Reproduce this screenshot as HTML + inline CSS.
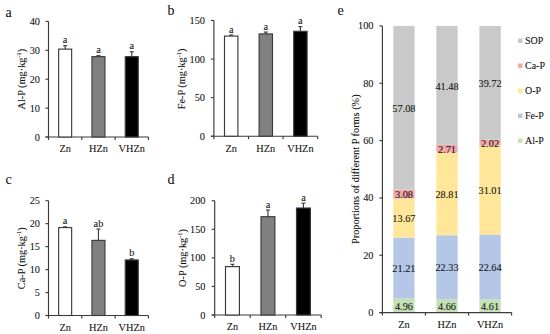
<!DOCTYPE html>
<html><head><meta charset="utf-8"><style>
html,body{margin:0;padding:0;background:#fff;width:550px;height:334px;overflow:hidden}
svg{display:block}
text{font-family:"Liberation Serif", serif;fill:#111;stroke:#111;stroke-width:0.08px}
</style></head><body>
<svg width="550" height="334" viewBox="0 0 550 334">
<line x1="48.5" y1="21.4" x2="48.5" y2="140" stroke="#3a3a3a" stroke-width="1.15"/>
<line x1="45.5" y1="137" x2="148.39999999999998" y2="137" stroke="#3a3a3a" stroke-width="1.15"/>
<line x1="45.5" y1="137.0" x2="48.5" y2="137.0" stroke="#3a3a3a" stroke-width="1.15"/>
<text x="40" y="140.5" font-size="10.3" text-anchor="end" >0</text>
<line x1="45.5" y1="108.1" x2="48.5" y2="108.1" stroke="#3a3a3a" stroke-width="1.15"/>
<text x="40" y="111.6" font-size="10.3" text-anchor="end" >10</text>
<line x1="45.5" y1="79.2" x2="48.5" y2="79.2" stroke="#3a3a3a" stroke-width="1.15"/>
<text x="40" y="82.7" font-size="10.3" text-anchor="end" >20</text>
<line x1="45.5" y1="50.30000000000001" x2="48.5" y2="50.30000000000001" stroke="#3a3a3a" stroke-width="1.15"/>
<text x="40" y="53.80000000000001" font-size="10.3" text-anchor="end" >30</text>
<line x1="45.5" y1="21.400000000000006" x2="48.5" y2="21.400000000000006" stroke="#3a3a3a" stroke-width="1.15"/>
<text x="40" y="24.900000000000006" font-size="10.3" text-anchor="end" >40</text>
<line x1="81.8" y1="137" x2="81.8" y2="140" stroke="#3a3a3a" stroke-width="1.15"/>
<line x1="115.1" y1="137" x2="115.1" y2="140" stroke="#3a3a3a" stroke-width="1.15"/>
<line x1="148.39999999999998" y1="137" x2="148.39999999999998" y2="140" stroke="#3a3a3a" stroke-width="1.15"/>
<line x1="65.15" y1="45.676000000000016" x2="65.15" y2="49.14400000000002" stroke="#3a3a3a" stroke-width="1.15"/>
<line x1="63.150000000000006" y1="45.676000000000016" x2="67.15" y2="45.676000000000016" stroke="#3a3a3a" stroke-width="1.15"/>
<rect x="58.650000000000006" y="49.14400000000002" width="13" height="87.85599999999998" fill="#ffffff" stroke="#3a3a3a" stroke-width="1.15"/>
<text x="65.15" y="43.176000000000016" font-size="10.3" text-anchor="middle" >a</text>
<text x="65.15" y="152" font-size="10.3" text-anchor="middle" >Zn</text>
<line x1="98.44999999999999" y1="55.6465" x2="98.44999999999999" y2="56.658" stroke="#3a3a3a" stroke-width="1.15"/>
<line x1="96.44999999999999" y1="55.6465" x2="100.44999999999999" y2="55.6465" stroke="#3a3a3a" stroke-width="1.15"/>
<rect x="91.94999999999999" y="56.658" width="13" height="80.342" fill="#808080" stroke="#3a3a3a" stroke-width="1.15"/>
<text x="98.44999999999999" y="53.1465" font-size="10.3" text-anchor="middle" >a</text>
<text x="98.44999999999999" y="152" font-size="10.3" text-anchor="middle" >HZn</text>
<line x1="131.75" y1="51.745000000000005" x2="131.75" y2="56.658" stroke="#3a3a3a" stroke-width="1.15"/>
<line x1="129.75" y1="51.745000000000005" x2="133.75" y2="51.745000000000005" stroke="#3a3a3a" stroke-width="1.15"/>
<rect x="125.25" y="56.658" width="13" height="80.342" fill="#000000" stroke="#3a3a3a" stroke-width="1.15"/>
<text x="131.75" y="49.245000000000005" font-size="10.3" text-anchor="middle" >a</text>
<text x="131.75" y="152" font-size="10.3" text-anchor="middle" >VHZn</text>
<text x="0" y="0" font-size="10.3" text-anchor="middle" transform="translate(24.8,79.2) rotate(-90)">Al-P (mg·kg<tspan dy="-3.8" font-size="6.3">-1</tspan><tspan dy="3.8">)</tspan></text>
<text x="5.5" y="16.5" font-size="14" text-anchor="start" >a</text>
<line x1="213.9" y1="20.5" x2="213.9" y2="139.2" stroke="#3a3a3a" stroke-width="1.15"/>
<line x1="210.9" y1="136.2" x2="317.70000000000005" y2="136.2" stroke="#3a3a3a" stroke-width="1.15"/>
<line x1="210.9" y1="136.2" x2="213.9" y2="136.2" stroke="#3a3a3a" stroke-width="1.15"/>
<text x="205" y="139.7" font-size="10.3" text-anchor="end" >0</text>
<line x1="210.9" y1="97.63333333333333" x2="213.9" y2="97.63333333333333" stroke="#3a3a3a" stroke-width="1.15"/>
<text x="205" y="101.13333333333333" font-size="10.3" text-anchor="end" >50</text>
<line x1="210.9" y1="59.06666666666666" x2="213.9" y2="59.06666666666666" stroke="#3a3a3a" stroke-width="1.15"/>
<text x="205" y="62.56666666666666" font-size="10.3" text-anchor="end" >100</text>
<line x1="210.9" y1="20.500000000000014" x2="213.9" y2="20.500000000000014" stroke="#3a3a3a" stroke-width="1.15"/>
<text x="205" y="24.000000000000014" font-size="10.3" text-anchor="end" >150</text>
<line x1="248.5" y1="136.2" x2="248.5" y2="139.2" stroke="#3a3a3a" stroke-width="1.15"/>
<line x1="283.1" y1="136.2" x2="283.1" y2="139.2" stroke="#3a3a3a" stroke-width="1.15"/>
<line x1="317.70000000000005" y1="136.2" x2="317.70000000000005" y2="139.2" stroke="#3a3a3a" stroke-width="1.15"/>
<line x1="231.20000000000002" y1="35.00106666666666" x2="231.20000000000002" y2="36.080933333333334" stroke="#3a3a3a" stroke-width="1.15"/>
<line x1="229.20000000000002" y1="35.00106666666666" x2="233.20000000000002" y2="35.00106666666666" stroke="#3a3a3a" stroke-width="1.15"/>
<rect x="224.50000000000003" y="36.080933333333334" width="13.4" height="100.11906666666665" fill="#ffffff" stroke="#3a3a3a" stroke-width="1.15"/>
<text x="231.20000000000002" y="32.50106666666666" font-size="10.3" text-anchor="middle" >a</text>
<text x="231.20000000000002" y="151.5" font-size="10.3" text-anchor="middle" >Zn</text>
<line x1="265.8" y1="32.07000000000001" x2="265.8" y2="33.92120000000001" stroke="#3a3a3a" stroke-width="1.15"/>
<line x1="263.8" y1="32.07000000000001" x2="267.8" y2="32.07000000000001" stroke="#3a3a3a" stroke-width="1.15"/>
<rect x="259.1" y="33.92120000000001" width="13.4" height="102.27879999999998" fill="#808080" stroke="#3a3a3a" stroke-width="1.15"/>
<text x="265.8" y="29.570000000000007" font-size="10.3" text-anchor="middle" >a</text>
<text x="265.8" y="151.5" font-size="10.3" text-anchor="middle" >HZn</text>
<line x1="300.4" y1="26.670666666666676" x2="300.4" y2="31.298666666666676" stroke="#3a3a3a" stroke-width="1.15"/>
<line x1="298.4" y1="26.670666666666676" x2="302.4" y2="26.670666666666676" stroke="#3a3a3a" stroke-width="1.15"/>
<rect x="293.7" y="31.298666666666676" width="13.4" height="104.90133333333331" fill="#000000" stroke="#3a3a3a" stroke-width="1.15"/>
<text x="300.4" y="24.170666666666676" font-size="10.3" text-anchor="middle" >a</text>
<text x="300.4" y="151.5" font-size="10.3" text-anchor="middle" >VHZn</text>
<text x="0" y="0" font-size="10.3" text-anchor="middle" transform="translate(184.8,79) rotate(-90)">Fe-P (mg·kg<tspan dy="-3.8" font-size="6.3">-1</tspan><tspan dy="3.8">)</tspan></text>
<text x="167.5" y="14.7" font-size="14" text-anchor="start" >b</text>
<line x1="48.5" y1="200.7" x2="48.5" y2="318.5" stroke="#3a3a3a" stroke-width="1.15"/>
<line x1="45.5" y1="315.5" x2="148.39999999999998" y2="315.5" stroke="#3a3a3a" stroke-width="1.15"/>
<line x1="45.5" y1="315.5" x2="48.5" y2="315.5" stroke="#3a3a3a" stroke-width="1.15"/>
<text x="40" y="319.0" font-size="10.3" text-anchor="end" >0</text>
<line x1="45.5" y1="292.54" x2="48.5" y2="292.54" stroke="#3a3a3a" stroke-width="1.15"/>
<text x="40" y="296.04" font-size="10.3" text-anchor="end" >5</text>
<line x1="45.5" y1="269.58" x2="48.5" y2="269.58" stroke="#3a3a3a" stroke-width="1.15"/>
<text x="40" y="273.08" font-size="10.3" text-anchor="end" >10</text>
<line x1="45.5" y1="246.62" x2="48.5" y2="246.62" stroke="#3a3a3a" stroke-width="1.15"/>
<text x="40" y="250.12" font-size="10.3" text-anchor="end" >15</text>
<line x1="45.5" y1="223.66" x2="48.5" y2="223.66" stroke="#3a3a3a" stroke-width="1.15"/>
<text x="40" y="227.16" font-size="10.3" text-anchor="end" >20</text>
<line x1="45.5" y1="200.7" x2="48.5" y2="200.7" stroke="#3a3a3a" stroke-width="1.15"/>
<text x="40" y="204.2" font-size="10.3" text-anchor="end" >25</text>
<line x1="81.8" y1="315.5" x2="81.8" y2="318.5" stroke="#3a3a3a" stroke-width="1.15"/>
<line x1="115.1" y1="315.5" x2="115.1" y2="318.5" stroke="#3a3a3a" stroke-width="1.15"/>
<line x1="148.39999999999998" y1="315.5" x2="148.39999999999998" y2="318.5" stroke="#3a3a3a" stroke-width="1.15"/>
<line x1="65.15" y1="226.8744" x2="65.15" y2="227.5632" stroke="#3a3a3a" stroke-width="1.15"/>
<line x1="63.150000000000006" y1="226.8744" x2="67.15" y2="226.8744" stroke="#3a3a3a" stroke-width="1.15"/>
<rect x="58.650000000000006" y="227.5632" width="13" height="87.9368" fill="#ffffff" stroke="#3a3a3a" stroke-width="1.15"/>
<text x="65.15" y="224.3744" font-size="10.3" text-anchor="middle" >a</text>
<text x="65.15" y="330.5" font-size="10.3" text-anchor="middle" >Zn</text>
<line x1="98.44999999999999" y1="229.03264000000001" x2="98.44999999999999" y2="240.37488" stroke="#3a3a3a" stroke-width="1.15"/>
<line x1="96.44999999999999" y1="229.03264000000001" x2="100.44999999999999" y2="229.03264000000001" stroke="#3a3a3a" stroke-width="1.15"/>
<rect x="91.94999999999999" y="240.37488" width="13" height="75.12512000000001" fill="#808080" stroke="#3a3a3a" stroke-width="1.15"/>
<text x="98.44999999999999" y="226.53264000000001" font-size="10.3" text-anchor="middle" >ab</text>
<text x="98.44999999999999" y="330.5" font-size="10.3" text-anchor="middle" >HZn</text>
<line x1="131.75" y1="258.7888" x2="131.75" y2="259.9368" stroke="#3a3a3a" stroke-width="1.15"/>
<line x1="129.75" y1="258.7888" x2="133.75" y2="258.7888" stroke="#3a3a3a" stroke-width="1.15"/>
<rect x="125.25" y="259.9368" width="13" height="55.563199999999995" fill="#000000" stroke="#3a3a3a" stroke-width="1.15"/>
<text x="131.75" y="256.2888" font-size="10.3" text-anchor="middle" >b</text>
<text x="131.75" y="330.5" font-size="10.3" text-anchor="middle" >VHZn</text>
<text x="0" y="0" font-size="10.3" text-anchor="middle" transform="translate(24.8,258.3) rotate(-90)">Ca-P (mg·kg<tspan dy="-3.8" font-size="6.3">-1</tspan><tspan dy="3.8">)</tspan></text>
<text x="5.5" y="184" font-size="14" text-anchor="start" >c</text>
<line x1="214.7" y1="200.7" x2="214.7" y2="318" stroke="#3a3a3a" stroke-width="1.15"/>
<line x1="211.7" y1="315" x2="321.2" y2="315" stroke="#3a3a3a" stroke-width="1.15"/>
<line x1="211.7" y1="315.0" x2="214.7" y2="315.0" stroke="#3a3a3a" stroke-width="1.15"/>
<text x="205.5" y="318.5" font-size="10.3" text-anchor="end" >0</text>
<line x1="211.7" y1="286.425" x2="214.7" y2="286.425" stroke="#3a3a3a" stroke-width="1.15"/>
<text x="205.5" y="289.925" font-size="10.3" text-anchor="end" >50</text>
<line x1="211.7" y1="257.85" x2="214.7" y2="257.85" stroke="#3a3a3a" stroke-width="1.15"/>
<text x="205.5" y="261.35" font-size="10.3" text-anchor="end" >100</text>
<line x1="211.7" y1="229.275" x2="214.7" y2="229.275" stroke="#3a3a3a" stroke-width="1.15"/>
<text x="205.5" y="232.775" font-size="10.3" text-anchor="end" >150</text>
<line x1="211.7" y1="200.7" x2="214.7" y2="200.7" stroke="#3a3a3a" stroke-width="1.15"/>
<text x="205.5" y="204.2" font-size="10.3" text-anchor="end" >200</text>
<line x1="250.2" y1="315" x2="250.2" y2="318" stroke="#3a3a3a" stroke-width="1.15"/>
<line x1="285.7" y1="315" x2="285.7" y2="318" stroke="#3a3a3a" stroke-width="1.15"/>
<line x1="321.2" y1="315" x2="321.2" y2="318" stroke="#3a3a3a" stroke-width="1.15"/>
<line x1="232.45" y1="264.30795" x2="232.45" y2="266.59395" stroke="#3a3a3a" stroke-width="1.15"/>
<line x1="230.45" y1="264.30795" x2="234.45" y2="264.30795" stroke="#3a3a3a" stroke-width="1.15"/>
<rect x="225.5" y="266.59395" width="13.9" height="48.40604999999999" fill="#ffffff" stroke="#3a3a3a" stroke-width="1.15"/>
<text x="232.45" y="261.80795" font-size="10.3" text-anchor="middle" >b</text>
<text x="232.45" y="330" font-size="10.3" text-anchor="middle" >Zn</text>
<line x1="267.95" y1="210.01545" x2="267.95" y2="216.702" stroke="#3a3a3a" stroke-width="1.15"/>
<line x1="265.95" y1="210.01545" x2="269.95" y2="210.01545" stroke="#3a3a3a" stroke-width="1.15"/>
<rect x="261.0" y="216.702" width="13.9" height="98.298" fill="#808080" stroke="#3a3a3a" stroke-width="1.15"/>
<text x="267.95" y="207.51545" font-size="10.3" text-anchor="middle" >a</text>
<text x="267.95" y="330" font-size="10.3" text-anchor="middle" >HZn</text>
<line x1="303.45" y1="203.15745" x2="303.45" y2="208.0152" stroke="#3a3a3a" stroke-width="1.15"/>
<line x1="301.45" y1="203.15745" x2="305.45" y2="203.15745" stroke="#3a3a3a" stroke-width="1.15"/>
<rect x="296.5" y="208.0152" width="13.9" height="106.9848" fill="#000000" stroke="#3a3a3a" stroke-width="1.15"/>
<text x="303.45" y="200.65745" font-size="10.3" text-anchor="middle" >a</text>
<text x="303.45" y="330" font-size="10.3" text-anchor="middle" >VHZn</text>
<text x="0" y="0" font-size="10.3" text-anchor="middle" transform="translate(186,258) rotate(-90)">O-P (mg·kg<tspan dy="-3.8" font-size="6.3">-1</tspan><tspan dy="3.8">)</tspan></text>
<text x="167.5" y="184" font-size="14" text-anchor="start" >d</text>
<rect x="393.285" y="298.37968" width="21.3" height="14.220320000000015" fill="#c5e0b4"/>
<rect x="393.285" y="237.57061" width="21.3" height="60.80907000000002" fill="#b4c7e7"/>
<rect x="393.285" y="198.37872" width="21.3" height="39.19189" fill="#ffe699"/>
<rect x="393.285" y="189.54836" width="21.3" height="8.830359999999985" fill="#f4a7a7"/>
<rect x="393.285" y="25.899999999999977" width="21.3" height="163.64836000000003" fill="#c9c9c9"/>
<text x="403.935" y="309.68984" font-size="10.3" text-anchor="middle" >4.96</text>
<text x="403.935" y="272.175145" font-size="10.3" text-anchor="middle" >21.21</text>
<text x="403.935" y="222.174665" font-size="10.3" text-anchor="middle" >13.67</text>
<text x="403.935" y="198.16353999999998" font-size="10.3" text-anchor="middle" >3.08</text>
<text x="403.935" y="111.92417999999996" font-size="10.3" text-anchor="middle" >57.08</text>
<text x="403.935" y="328" font-size="10.3" text-anchor="middle" >Zn</text>
<rect x="436.355" y="299.23978" width="21.3" height="13.360220000000027" fill="#c5e0b4"/>
<rect x="436.355" y="235.21967" width="21.3" height="64.02010999999999" fill="#b4c7e7"/>
<rect x="436.355" y="152.6214" width="21.3" height="82.59827000000001" fill="#ffe699"/>
<rect x="436.355" y="144.85183" width="21.3" height="7.769569999999987" fill="#f4a7a7"/>
<rect x="436.355" y="25.92867000000001" width="21.3" height="118.92316" fill="#c9c9c9"/>
<text x="447.005" y="310.11989" font-size="10.3" text-anchor="middle" >4.66</text>
<text x="447.005" y="271.429725" font-size="10.3" text-anchor="middle" >22.33</text>
<text x="447.005" y="198.12053500000002" font-size="10.3" text-anchor="middle" >28.81</text>
<text x="447.005" y="152.93661500000002" font-size="10.3" text-anchor="middle" >2.71</text>
<text x="447.005" y="89.59024999999998" font-size="10.3" text-anchor="middle" >41.48</text>
<text x="447.005" y="328" font-size="10.3" text-anchor="middle" >HZn</text>
<rect x="479.425" y="299.38313" width="21.3" height="13.216870000000029" fill="#c5e0b4"/>
<rect x="479.425" y="234.47425" width="21.3" height="64.90887999999998" fill="#b4c7e7"/>
<rect x="479.425" y="145.56857999999997" width="21.3" height="88.90567000000004" fill="#ffe699"/>
<rect x="479.425" y="139.77723999999998" width="21.3" height="5.791339999999991" fill="#f4a7a7"/>
<rect x="479.425" y="25.899999999999977" width="21.3" height="113.87724" fill="#c9c9c9"/>
<text x="490.075" y="310.191565" font-size="10.3" text-anchor="middle" >4.61</text>
<text x="490.075" y="271.12869" font-size="10.3" text-anchor="middle" >22.64</text>
<text x="490.075" y="194.22141499999998" font-size="10.3" text-anchor="middle" >31.01</text>
<text x="490.075" y="146.87291" font-size="10.3" text-anchor="middle" >2.02</text>
<text x="490.075" y="87.03861999999994" font-size="10.3" text-anchor="middle" >39.72</text>
<text x="490.075" y="328" font-size="10.3" text-anchor="middle" >VHZn</text>
<line x1="382.4" y1="25.9" x2="382.4" y2="315.6" stroke="#3a3a3a" stroke-width="1.15"/>
<line x1="379.4" y1="312.6" x2="511.61" y2="312.6" stroke="#3a3a3a" stroke-width="1.15"/>
<line x1="379.4" y1="312.6" x2="382.4" y2="312.6" stroke="#3a3a3a" stroke-width="1.15"/>
<text x="373.5" y="316.1" font-size="10.3" text-anchor="end" >0</text>
<line x1="379.4" y1="255.26000000000002" x2="382.4" y2="255.26000000000002" stroke="#3a3a3a" stroke-width="1.15"/>
<text x="373.5" y="258.76" font-size="10.3" text-anchor="end" >20</text>
<line x1="379.4" y1="197.92000000000002" x2="382.4" y2="197.92000000000002" stroke="#3a3a3a" stroke-width="1.15"/>
<text x="373.5" y="201.42000000000002" font-size="10.3" text-anchor="end" >40</text>
<line x1="379.4" y1="140.57999999999998" x2="382.4" y2="140.57999999999998" stroke="#3a3a3a" stroke-width="1.15"/>
<text x="373.5" y="144.07999999999998" font-size="10.3" text-anchor="end" >60</text>
<line x1="379.4" y1="83.23999999999998" x2="382.4" y2="83.23999999999998" stroke="#3a3a3a" stroke-width="1.15"/>
<text x="373.5" y="86.73999999999998" font-size="10.3" text-anchor="end" >80</text>
<line x1="379.4" y1="25.899999999999977" x2="382.4" y2="25.899999999999977" stroke="#3a3a3a" stroke-width="1.15"/>
<text x="373.5" y="29.399999999999977" font-size="10.3" text-anchor="end" >100</text>
<line x1="425.46999999999997" y1="312.6" x2="425.46999999999997" y2="315.6" stroke="#3a3a3a" stroke-width="1.15"/>
<line x1="468.53999999999996" y1="312.6" x2="468.53999999999996" y2="315.6" stroke="#3a3a3a" stroke-width="1.15"/>
<line x1="511.61" y1="312.6" x2="511.61" y2="315.6" stroke="#3a3a3a" stroke-width="1.15"/>
<text x="0" y="0" font-size="10.3" text-anchor="middle" transform="translate(358.9,169.2) rotate(-90)">Proportions of different P forms (%)</text>
<rect x="518" y="38.5" width="4.5" height="4.5" fill="#c9c9c9"/>
<text x="525" y="44.1" font-size="10" text-anchor="start" >SOP</text>
<rect x="518" y="63.50000000000001" width="4.5" height="4.5" fill="#f4a7a7"/>
<text x="525" y="69.10000000000001" font-size="10" text-anchor="start" >Ca-P</text>
<rect x="518" y="88.5" width="4.5" height="4.5" fill="#ffe699"/>
<text x="525" y="94.10000000000001" font-size="10" text-anchor="start" >O-P</text>
<rect x="518" y="113.5" width="4.5" height="4.5" fill="#b4c7e7"/>
<text x="525" y="119.10000000000001" font-size="10" text-anchor="start" >Fe-P</text>
<rect x="518" y="138.5" width="4.5" height="4.5" fill="#c5e0b4"/>
<text x="525" y="144.1" font-size="10" text-anchor="start" >Al-P</text>
<text x="337.5" y="15" font-size="14" text-anchor="start" >e</text>
</svg></body></html>
